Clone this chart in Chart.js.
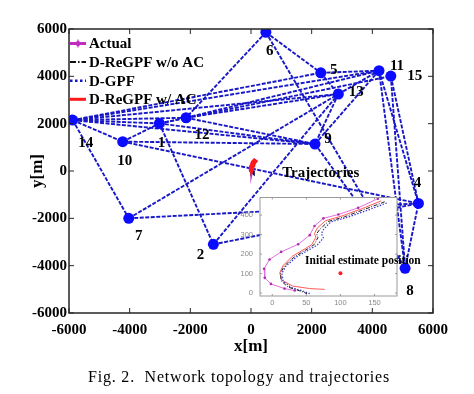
<!DOCTYPE html>
<html>
<head>
<meta charset="utf-8">
<script src="https://cdn.jsdelivr.net/npm/chart.js@4.4.1/dist/chart.umd.min.js"></script>
<style>
  html, body { margin: 0; padding: 0; background: #fff; }
  #wrap { position: relative; width: 474px; height: 394px; }
  #main { position: absolute; left: 0; top: 0; }
  #inset { position: absolute; left: 234px; top: 186px; }
</style>
</head>
<body>
<div id="wrap">
  <canvas id="main" width="474" height="394"></canvas>
  <canvas id="inset" width="200" height="125"></canvas>
</div>
<script>
// sensor nodes (m)
const nodeIds = [1, 2, 4, 5, 6, 7, 8, 9, 10, 11, 12, 13, 14, 15];
const nodeX = [-3020, -1240, 5520, 2300, 490, -4030, 5080, 2110, -4230, 4220, -2140, 2880, -5880, 4610];
const nodeY = [2010, -3100, -1370, 4150, 5860, -2000, -4110, 1140, 1240, 4240, 2250, 3250, 2150, 4010];

// communication links, by node id
const links = [
  [14, 10], [14, 7], [14, 1], [14, 12], [14, 11], [14, 5], [14, 13], [14, 9],
  [10, 1], [10, 9], [10, 4],
  [1, 12], [1, 2], [1, 9], [1, 15],
  [12, 9], [12, 11], [12, 13],
  [7, 13], [7, 4],
  [2, 13], [2, 4],
  [6, 12], [6, 5], [6, 8],
  [5, 11], [5, 13],
  [13, 11], [13, 9],
  [11, 8], [15, 8], [11, 4], [15, 4], [8, 4],
  [9, 11], [9, 8]
];

const axisTicks = [-6000, -4000, -2000, 0, 2000, 4000, 6000];

// trajectories (m)
const actualX = [155, 126, 97, 75, 62, 55, 38, 13, -4, -12, -11, -2, 18, 33];
const actualY = [484, 437, 403, 383, 344, 297, 250, 211, 172, 125, 78, 47, 23, 13];
const noAcX = [165, 136, 106, 82, 70, 65, 67, 61, 52, 33, 18, 12, 13, 23, 43, 51];
const noAcY = [468, 430, 391, 367, 328, 304, 284, 247, 227, 187, 140, 102, 63, 31, 8, -3];
const gpfX = [168, 140, 110, 86, 76, 72, 75, 66, 56, 36, 20, 14, 16, 27, 47, 55];
const gpfY = [462, 425, 388, 365, 330, 305, 283, 246, 226, 186, 138, 100, 62, 30, 8, -3];
const acX = [160, 132, 102, 78, 66, 62, 64, 58, 49, 30, 16, 11, 14, 30, 55, 77];
const acY = [473, 433, 395, 371, 333, 306, 286, 249, 229, 190, 142, 104, 66, 36, 23, 19];
const initX = [100];
const initY = [102];

const insetXTicks = [0, 50, 100, 150];
const insetYTicks = [0, 100, 200, 300, 400];

const seriesNames = ['Actual', 'D-ReGPF w/o AC', 'D-GPF', 'D-ReGPF w/ AC'];

const serif = '"Liberation Serif", "Times New Roman", serif';
const sans = '"Liberation Sans", Arial, sans-serif';
const LINK = '#1717c8';
const styles = [
  { color: '#c02cc0', dash: [], width: 3 },
  { color: '#111111', dash: [6, 2, 1.5, 2], width: 2 },
  { color: '#1515d0', dash: [2.5, 2.5], width: 2.5 },
  { color: '#ff1a1a', dash: [], width: 3 }
];

const pts = (xs, ys) => xs.map((x, i) => ({ x: x, y: ys[i] }));
const node = id => nodeIds.indexOf(id);
const trajX = [actualX, noAcX, gpfX, acX];
const trajY = [actualY, noAcY, gpfY, acY];

const mainSets = [];
mainSets.push({
  label: 'nodes', data: pts(nodeX, nodeY), showLine: false,
  pointRadius: 5.5, pointBackgroundColor: '#0b0bff', pointBorderWidth: 0, order: 0
});
seriesNames.forEach((name, i) => {
  mainSets.push({
    label: name, data: pts(trajX[i], trajY[i]), showLine: true,
    borderColor: styles[i].color, borderWidth: i == 3 ? 5 : 4,
    pointRadius: 0, order: i == 3 ? 0.5 : 1
  });
});
links.forEach(([a, b]) => {
  mainSets.push({
    data: [{ x: nodeX[node(a)], y: nodeY[node(a)] }, { x: nodeX[node(b)], y: nodeY[node(b)] }],
    showLine: true, borderColor: LINK, borderWidth: 1.9, borderDash: [4, 1.5],
    pointRadius: 0, order: 2
  });
});

// node label offsets, px
const labelShift = {
  1: [2, 20], 2: [-13, 11], 4: [-1, -20], 5: [13, -3], 6: [4, 19], 7: [10, 18], 8: [5, 23],
  9: [13, -5], 10: [2, 19], 11: [18, -5], 12: [16, 17], 13: [18, -2], 14: [13, 23], 15: [24, 0]
};

const mainDecor = {
  id: 'mainDecor',
  afterDraw(chart) {
    const { ctx, chartArea: a, scales: { x, y } } = chart;
    ctx.save();
    ctx.strokeStyle = '#262626';
    ctx.lineWidth = 1.5;
    ctx.strokeRect(a.left, a.top, a.right - a.left, a.bottom - a.top);
    ctx.lineWidth = 1;
    ctx.beginPath();
    axisTicks.forEach(v => {
      const px = x.getPixelForValue(v), py = y.getPixelForValue(v);
      ctx.moveTo(px, a.bottom); ctx.lineTo(px, a.bottom - 5);
      ctx.moveTo(px, a.top); ctx.lineTo(px, a.top + 5);
      ctx.moveTo(a.left, py); ctx.lineTo(a.left + 5, py);
      ctx.moveTo(a.right, py); ctx.lineTo(a.right - 5, py);
    });
    ctx.stroke();

    // node numbers
    ctx.fillStyle = '#000';
    ctx.font = 'bold 15px ' + serif;
    ctx.textAlign = 'center';
    ctx.textBaseline = 'middle';
    nodeIds.forEach((id, i) => {
      const s = labelShift[id];
      ctx.fillText(String(id), x.getPixelForValue(nodeX[i]) + s[0], y.getPixelForValue(nodeY[i]) + s[1]);
    });
    ctx.fillText('Trajectories', x.getPixelForValue(2300), y.getPixelForValue(-90));

    // legend
    ctx.textAlign = 'left';
    seriesNames.forEach((name, i) => {
      const ly = 43.5 + i * 18.6, st = styles[i];
      ctx.strokeStyle = st.color;
      ctx.lineWidth = st.width;
      ctx.setLineDash(st.dash);
      ctx.beginPath();
      ctx.moveTo(70, ly); ctx.lineTo(86, ly);
      ctx.stroke();
      ctx.setLineDash([]);
      if (i == 0) {
        ctx.lineWidth = 1.2;
        ctx.beginPath();
        ctx.moveTo(78, ly - 4); ctx.lineTo(78, ly + 4);
        ctx.stroke();
        ctx.fillStyle = st.color;
        ctx.beginPath(); ctx.arc(78, ly, 2.5, 0, Math.PI * 2); ctx.fill();
      }
      ctx.fillStyle = '#000';
      ctx.fillText(name, 89, ly + 1);
    });

    // caption
    ctx.textAlign = 'center';
    ctx.font = '16px ' + serif;
    ctx.letterSpacing = '0.8px';
    ctx.fillText('Fig. 2.  Network topology and trajectories', 239, 378);
    ctx.restore();
  }
};

const tickFont = { family: serif, size: 15, weight: 'bold' };

new Chart(document.getElementById('main'), {
  type: 'scatter',
  data: { datasets: mainSets },
  options: {
    responsive: false,
    animation: false,
    layout: { padding: { top: 29, right: 41, left: 0, bottom: 0 } },
    plugins: { legend: { display: false }, tooltip: { enabled: false } },
    scales: {
      x: {
        type: 'linear', min: -6000, max: 6000,
        afterFit: s => { s.height = 81; },
        afterBuildTicks: s => { s.ticks = axisTicks.map(v => ({ value: v })); },
        grid: { display: false, drawTicks: false },
        border: { display: false },
        ticks: { color: '#000', font: tickFont, padding: 8, maxRotation: 0, autoSkip: false, callback: v => String(v) },
        title: { display: true, text: 'x[m]', color: '#000', font: { family: serif, size: 17, weight: 'bold' }, padding: { top: 0, bottom: 37 } }
      },
      y: {
        type: 'linear', min: -6000, max: 6000,
        afterFit: s => { s.width = 69; },
        afterBuildTicks: s => { s.ticks = axisTicks.map(v => ({ value: v })); },
        grid: { display: false, drawTicks: false },
        border: { display: false },
        ticks: { color: '#000', font: tickFont, padding: 2, autoSkip: false, callback: v => String(v) },
        title: { display: true, text: 'y[m]', color: '#000', font: { family: serif, size: 17, weight: 'bold' }, padding: { top: 27, bottom: 0 } }
      }
    }
  },
  plugins: [mainDecor]
});

// zoomed inset
const insetStyles = [
  { color: '#e070e0', dash: [], width: 1 },
  { color: '#222222', dash: [4, 1.5, 1, 1.5], width: 1 },
  { color: '#3a3ad8', dash: [1.5, 1.5], width: 1.2 },
  { color: '#ff5a5a', dash: [], width: 1 }
];
const insetSets = seriesNames.map((name, i) => ({
  label: name, data: pts(trajX[i], trajY[i]), showLine: true,
  borderColor: insetStyles[i].color, borderWidth: insetStyles[i].width, borderDash: insetStyles[i].dash,
  pointRadius: i == 0 ? 1.3 : 0, pointBackgroundColor: '#b02cb0', pointBorderWidth: 0
}));
insetSets.push({
  label: 'init', data: pts(initX, initY), showLine: false,
  pointRadius: 2, pointBackgroundColor: '#ff2020', pointBorderWidth: 0
});

const insetDecor = {
  id: 'insetDecor',
  beforeDraw(chart) {
    const { ctx, chartArea: a } = chart;
    ctx.save();
    ctx.fillStyle = '#fff';
    ctx.fillRect(a.left, a.top, a.right - a.left, a.bottom - a.top);
    ctx.restore();
  },
  afterDraw(chart) {
    const { ctx, chartArea: a, scales: { x, y } } = chart;
    ctx.save();
    ctx.strokeStyle = '#9a9a9a';
    ctx.lineWidth = 1;
    ctx.strokeRect(a.left, a.top, a.right - a.left, a.bottom - a.top);
    ctx.beginPath();
    insetXTicks.forEach(v => {
      const px = x.getPixelForValue(v);
      ctx.moveTo(px, a.bottom); ctx.lineTo(px, a.bottom - 2);
      ctx.moveTo(px, a.top); ctx.lineTo(px, a.top + 2);
    });
    insetYTicks.forEach(v => {
      const py = y.getPixelForValue(v);
      ctx.moveTo(a.left, py); ctx.lineTo(a.left + 2, py);
      ctx.moveTo(a.right, py); ctx.lineTo(a.right - 2, py);
    });
    ctx.stroke();
    ctx.fillStyle = '#000';
    ctx.font = 'bold 11.5px ' + serif;
    ctx.textAlign = 'center';
    ctx.textBaseline = 'middle';
    ctx.fillText('Initial estimate position', x.getPixelForValue(133), y.getPixelForValue(162));
    ctx.restore();
  }
};

const insetTick = { color: '#8a8a8a', font: { family: sans, size: 7.5 } };

new Chart(document.getElementById('inset'), {
  type: 'scatter',
  data: { datasets: insetSets },
  options: {
    responsive: false,
    animation: false,
    layout: { padding: { top: 2, right: 37, left: 0, bottom: 0 } },
    plugins: { legend: { display: false }, tooltip: { enabled: false } },
    scales: {
      x: {
        type: 'linear', min: -18, max: 183,
        afterFit: s => { s.height = 15; },
        afterBuildTicks: s => { s.ticks = insetXTicks.map(v => ({ value: v })); },
        grid: { display: false, drawTicks: false },
        border: { display: false },
        ticks: Object.assign({ padding: 2, maxRotation: 0, autoSkip: false }, insetTick)
      },
      y: {
        type: 'linear', min: -15, max: 490,
        afterFit: s => { s.width = 26; },
        afterBuildTicks: s => { s.ticks = insetYTicks.map(v => ({ value: v })); },
        grid: { display: false, drawTicks: false },
        border: { display: false },
        ticks: Object.assign({ padding: 7, autoSkip: false }, insetTick)
      }
    }
  },
  plugins: [insetDecor]
});
</script>
</body>
</html>
